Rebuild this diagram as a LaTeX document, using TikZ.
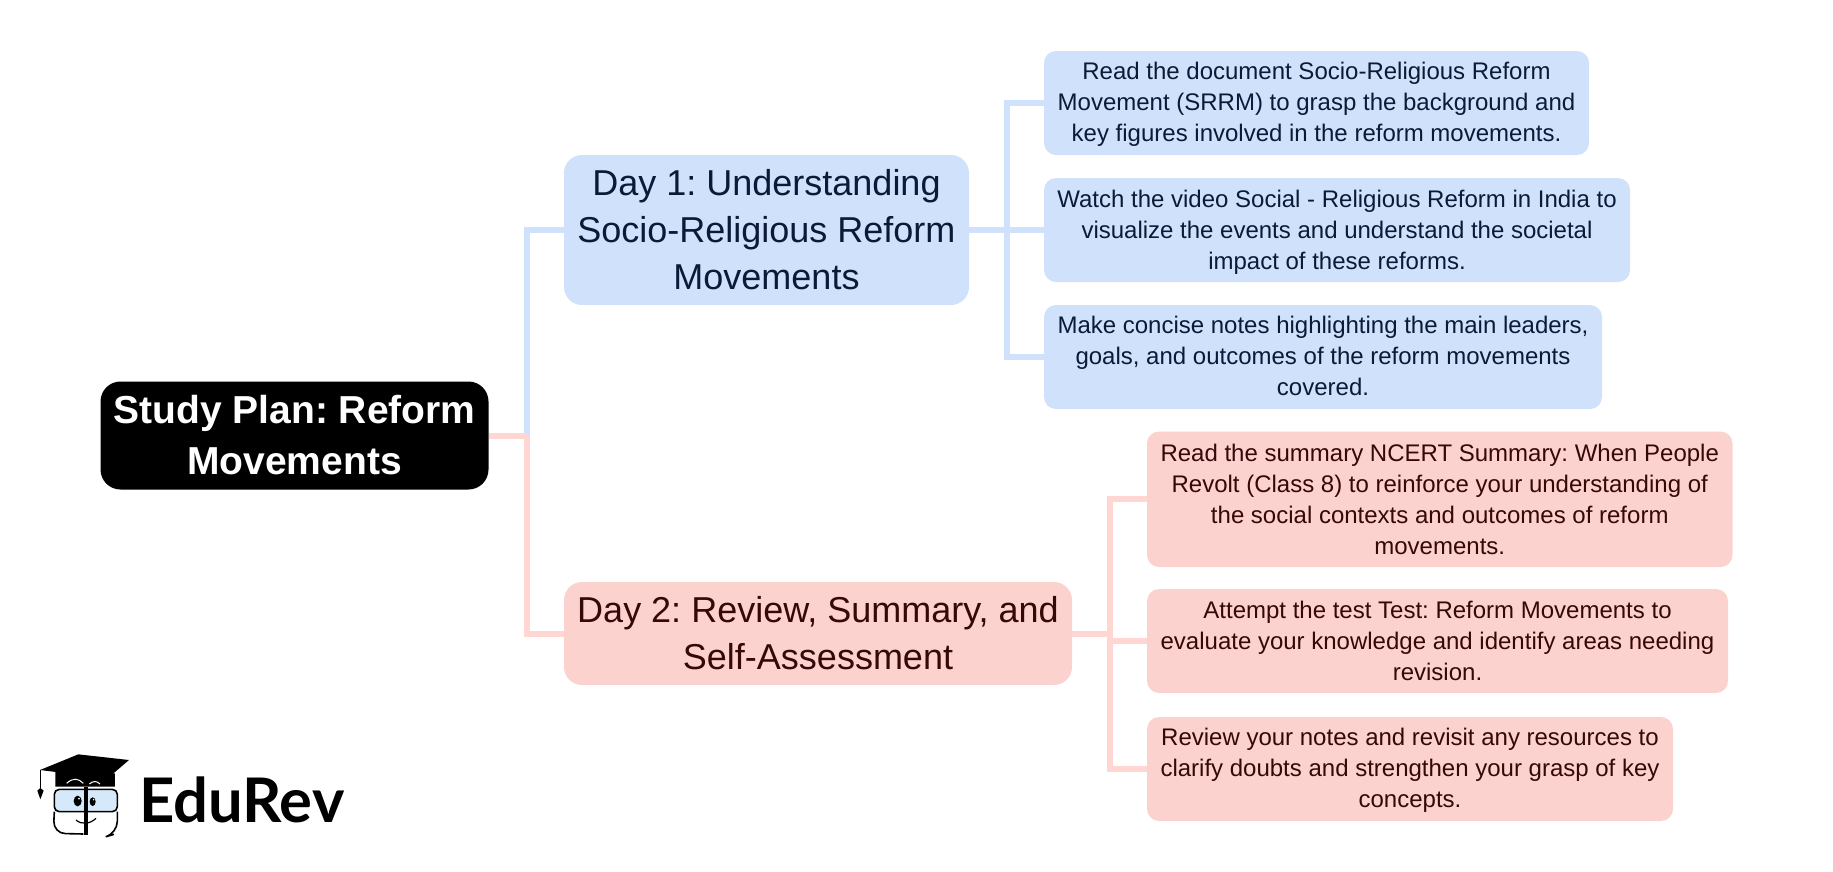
\documentclass[tikz,border=0pt]{standalone}
\usepackage{fontspec}
\setmainfont{Liberation Sans}
\newfontfamily\logofont{Lato}
\definecolor{blfill}{HTML}{D0E2FB}
\definecolor{pkfill}{HTML}{FCD2CF}
\definecolor{blline}{HTML}{D0E2FB}
\definecolor{pkline}{HTML}{FFD6D2}
\definecolor{bltext}{HTML}{0B1A38}
\definecolor{pktext}{HTML}{360808}
\definecolor{logoblue}{HTML}{D6E9FB}
\newcommand{\tallline}[1]{\rule{0pt}{#1}}
\newcommand{\deepline}[1]{\rule[-#1]{0pt}{#1}}
\tikzset{
  x=1pt,y=1pt,
  base/.style={align=center,inner sep=0pt,outer sep=0pt},
  rootbox/.style={base,fill=black,text=white,rounded corners=20pt,font=\frenchspacing\fontsize{39}{51}\selectfont\bfseries},
  dayone/.style={base,fill=blfill,text=bltext,rounded corners=18pt,font=\frenchspacing\fontsize{36}{47}\selectfont},
  daytwo/.style={base,fill=pkfill,text=pktext,rounded corners=18pt,font=\frenchspacing\fontsize{36}{47}\selectfont},
  subone/.style={base,fill=blfill,text=bltext,rounded corners=12pt,font=\frenchspacing\fontsize{24}{31}\selectfont},
  subtwo/.style={base,fill=pkfill,text=pktext,rounded corners=12pt,font=\frenchspacing\fontsize{24}{31}\selectfont},
  blconn/.style={draw=blline,line width=6pt},
  pkconn/.style={draw=pkline,line width=6pt},
}
\begin{document}
\begin{tikzpicture}
\useasboundingbox (0,0) rectangle (1833,-871);
\coordinate (rootj) at (526.5,-435.5);
\coordinate (bj) at (1007,-230);
\coordinate (pj) at (1109.5,-633.5);

\node[rootbox,minimum width=388pt,minimum height=108pt] (root) at (294.5,-435.5) {Study Plan: Reform\\Movements};
\node[dayone,minimum width=405pt,minimum height=150pt] (d1) at (766.5,-230) {Day 1: Understanding\\Socio-Religious Reform\\Movements};
\node[daytwo,minimum width=508pt,minimum height=103pt] (d2) at (818,-633.5) {Day 2: Review, Summary, and\\Self-Assessment};

\node[subone,minimum width=545pt,minimum height=104pt] (a1) at (1316.5,-103) {\tallline{20.3pt}Read the document Socio-Religious Reform\\Movement (SRRM) to grasp the background and\\key figures involved in the reform movements.};
\node[subone,minimum width=586pt,minimum height=104pt] (a2) at (1337,-230) {\tallline{21.9pt}Watch the video Social - Religious Reform in India to\\visualize the events and understand the societal\\impact of these reforms.};
\node[subone,minimum width=558pt,minimum height=104pt] (a3) at (1323,-357) {Make concise notes highlighting the main leaders,\\goals, and outcomes of the reform movements\\covered.\deepline{1.8pt}};

\node[subtwo,minimum width=585.5pt,minimum height=135.5pt] (b1) at (1439.75,-499.25) {Read the summary NCERT Summary: When People\\Revolt (Class 8) to reinforce your understanding of\\the social contexts and outcomes of reform\\movements.};
\node[subtwo,minimum width=581pt,minimum height=104pt] (b2) at (1437.5,-641) {Attempt the test Test: Reform Movements to\\evaluate your knowledge and identify areas needing\\revision.};
\node[subtwo,minimum width=526pt,minimum height=104pt] (b3) at (1410,-769) {\tallline{19.9pt}Review your notes and revisit any resources to\\clarify doubts and strengthen your grasp of key\\concepts.};

\draw[blconn] (rootj) |- (d1.west);
\draw[blconn] (d1.east) -- (bj);
\draw[blconn] (a1.west) -| (bj);
\draw[blconn] (a3.west) -| (bj);
\draw[blconn] (bj) -- (a2.west);
\draw[pkconn] (root.east) -- (rootj);
\draw[pkconn] (rootj) |- (d2.west);
\draw[pkconn] (d2.east) -- (pj);
\draw[pkconn] (b1.west) -| (pj);
\draw[pkconn] (b3.west) -| (pj);
\draw[pkconn] (pj |- b2.west) -- (b2.west);

% logo
\node[base,anchor=base west,font=\logofont\fontsize{61.5}{61.5}\selectfont\bfseries] (brand) at (139,-822) {EduRev};
\begin{scope}[shift={(0,-720)},x=0.3333pt,y=-0.3333pt]
  \draw[line width=1.6pt,fill=logoblue,rounded corners=5pt] (163,208) rectangle (352,275);
  \draw[line width=1.6pt,rounded corners=12pt] (163,275) -- (160,340) -- (250,342);
  \draw[line width=1.6pt,rounded corners=12pt] (352,275) -- (352,340) -- (342,343);
  \fill[black] (166,150) -- (166,200) -- (345,200) -- (345,160) -- cycle;
  \draw[line width=1pt,white] (200,190) .. controls (220,172) and (235,175) .. (250,190);
  \draw[line width=1pt,white] (268,192) .. controls (280,182) and (290,182) .. (300,192);
  \fill[black] (120,150) -- (235,103) -- (387,120) -- (310,186) -- (240,165) -- cycle;
  \draw[line width=1pt] (121,150) -- (121,205);
  \fill[black] (121,238) -- (112,212) -- (121,204) -- (131,212) -- cycle;
  \fill[black] (253,200) rectangle (264,345);
  \fill[black] (233,243) ellipse (12 and 16);
  \fill[black] (278,245) ellipse (9 and 13);
  \fill[white] (237,236) circle (3);
  \fill[white] (281,239) circle (2.5);
  \draw[line width=1.2pt] (228,300) .. controls (245,315) and (270,312) .. (288,295);
\end{scope}
\end{tikzpicture}
\end{document}
